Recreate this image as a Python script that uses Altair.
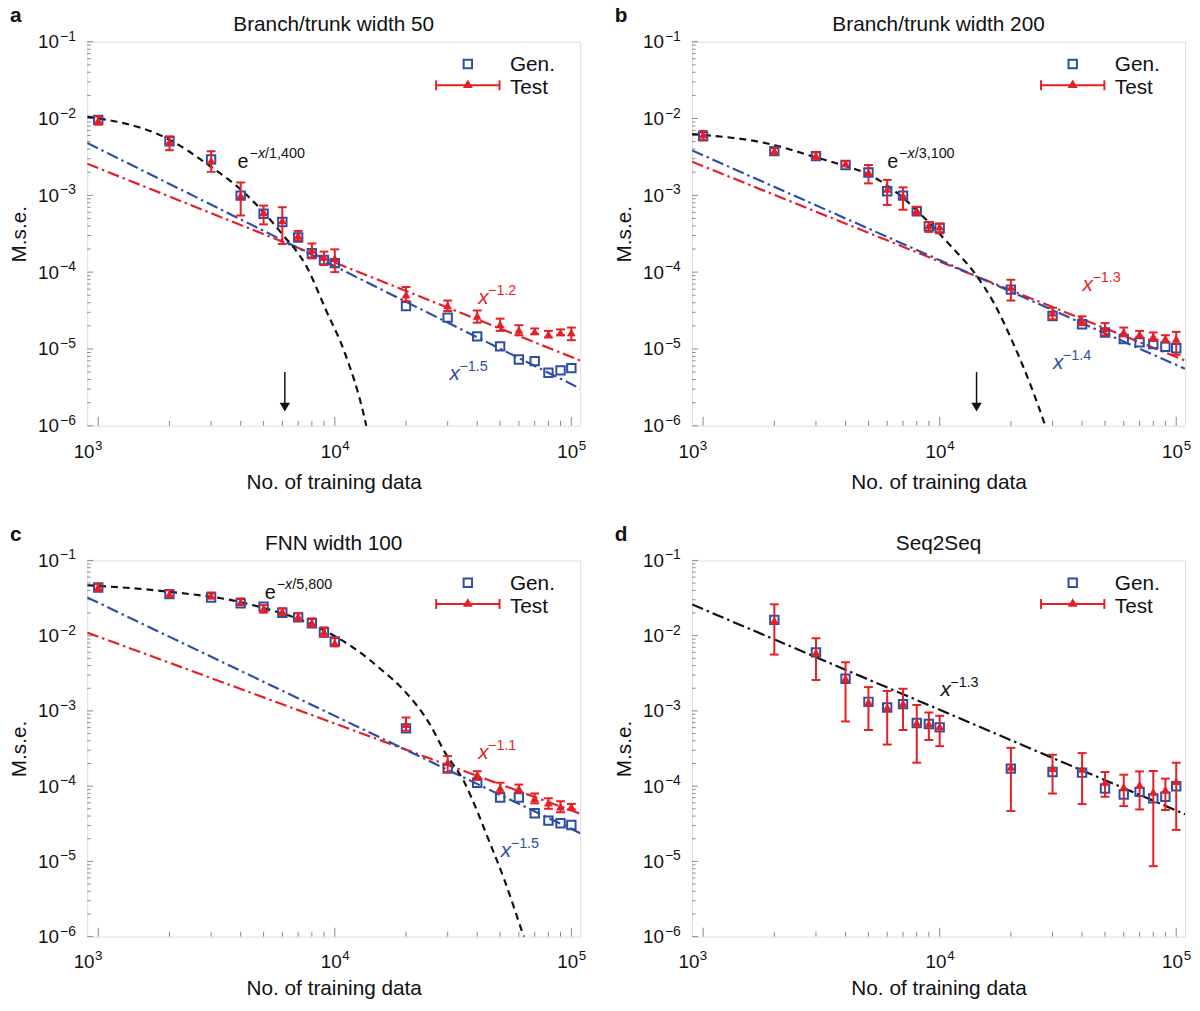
import altair as alt
import pandas as pd

FONT = "Liberation Sans"
BLUE = "#2d4ea3"
RED = "#e61f27"
INK = "#111111"
GRAY = "#8a8a8a"
FRAME = "#6a6a6a"

W = 498
H_TOP = 388
H_BOT = 380
X_DOMAIN = [898, 109000]
Y_DOMAIN = [1e-6, 1e-1]

# ---------------- tick values / tick labels ----------------
x_tick_vals = [1000, 10000, 100000]
x_tick_exp = ["3", "4", "5"]
y_tick_vals = [1e-6, 1e-5, 1e-4, 1e-3, 1e-2, 1e-1]
y_tick_exp = ["\u22126", "\u22125", "\u22124", "\u22123", "\u22122", "\u22121"]
minor_mult = [2, 3, 4, 5, 6, 7, 8, 9]
x_minor = [m * 10 ** e for e in (3, 4) for m in minor_mult]
y_minor = [m * 10.0 ** e for e in range(-6, -1) for m in minor_mult]

legend_labels = ["Gen.", "Test"]

# ---------------- data ----------------
n_train = [1000, 2000, 3000, 4000, 5000, 6000, 7000, 8000, 9000, 10000,
           20000, 30000, 40000, 50000, 60000, 70000, 80000, 90000, 100000]

# panel a: Branch/trunk width 50
a_gen = [9.6e-3, 5.06e-3, 2.94e-3, 9.9e-4, 5.75e-4, 4.49e-4, 2.82e-4, 1.76e-4, 1.44e-4, 1.31e-4,
         3.61e-5, 2.56e-5, 1.46e-5, 1.08e-5, 7.29e-6, 6.94e-6, 4.91e-6, 5.26e-6, 5.63e-6]
a_test = [9.5e-3, 5.0e-3, 2.84e-3, 1.0e-3, 6.0e-4, 4.7e-4, 3.0e-4, 1.94e-4, 1.58e-4, 1.51e-4,
          5.1e-5, 3.69e-5, 2.69e-5, 2.1e-5, 1.77e-5, 1.69e-5, 1.56e-5, 1.64e-5, 1.64e-5]
a_lo = [8.3e-3, 3.87e-3, 2.02e-3, 5.47e-4, 4.19e-4, 2.32e-4, 2.6e-4, 1.51e-4, 1.24e-4, 1.0e-4,
        4.19e-5, 3.12e-5, 2.2e-5, 1.72e-5, 1.51e-5, 1.57e-5, 1.41e-5, 1.51e-5, 1.3e-5]
a_hi = [1.06e-2, 5.86e-3, 3.76e-3, 1.47e-3, 7.36e-4, 7.0e-4, 3.44e-4, 2.36e-4, 1.85e-4, 1.98e-4,
        6.4e-5, 4.27e-5, 3.17e-5, 2.48e-5, 2.04e-5, 1.85e-5, 1.72e-5, 1.8e-5, 1.9e-5]
a_exp_x = [898, 2000, 2900, 4200, 5970, 7600, 9150, 11000, 13250, 13800]
a_exp_y = [1.06e-2, 5.3e-3, 2.53e-3, 1.04e-3, 3.18e-4, 1.18e-4, 3.27e-5, 9.06e-6, 1.4e-6, 8e-7]
a_red_x = [898, 109000]
a_red_y = [2.58e-3, 7.08e-6]
a_blue_x = [898, 109000]
a_blue_y = [4.81e-3, 3.05e-6]

# panel b: Branch/trunk width 200
b_gen = [5.86e-3, 3.76e-3, 3.24e-3, 2.48e-3, 1.98e-3, 1.13e-3, 9.9e-4, 6.2e-4, 3.95e-4, 3.76e-4,
         5.93e-5, 2.69e-5, 2.1e-5, 1.64e-5, 1.35e-5, 1.22e-5, 1.16e-5, 1.07e-5, 1.02e-5]
b_test = [6.2e-3, 3.8e-3, 3.3e-3, 2.6e-3, 2.0e-3, 1.21e-3, 1.0e-3, 6.4e-4, 4.1e-4, 3.9e-4,
          6.4e-5, 2.96e-5, 2.32e-5, 1.85e-5, 1.67e-5, 1.56e-5, 1.46e-5, 1.37e-5, 1.35e-5]
b_lo = [5.3e-3, 3.5e-3, 3.0e-3, 2.4e-3, 1.43e-3, 7.5e-4, 6.5e-4, 5.6e-4, 3.34e-4, 3.2e-4,
        4.27e-5, 2.43e-5, 2.04e-5, 1.5e-5, 1.46e-5, 1.41e-5, 1.27e-5, 1.22e-5, 8.4e-6]
b_hi = [6.9e-3, 4.1e-3, 3.6e-3, 2.8e-3, 2.48e-3, 1.59e-3, 1.27e-3, 7.1e-4, 4.49e-4, 4.3e-4,
        7.96e-5, 3.44e-5, 2.66e-5, 2.17e-5, 1.9e-5, 1.72e-5, 1.64e-5, 1.51e-5, 1.67e-5]
b_exp_x = [898, 2010, 2965, 3990, 4980, 6700, 8690, 11050, 14060, 16930, 20370, 24540, 27940, 28600]
b_exp_y = [6.28e-3, 4.49e-3, 3.15e-3, 2.41e-3, 1.88e-3, 1.04e-3, 4.96e-4, 2.25e-4, 9.7e-5,
           3.99e-5, 1.22e-5, 3.05e-6, 1.0e-6, 8e-7]
b_red_x = [898, 109000]
b_red_y = [2.74e-3, 7.08e-6]
b_blue_x = [898, 109000]
b_blue_y = [3.84e-3, 5.52e-6]

# panel c: FNN width 100
c_gen = [4.36e-2, 3.56e-2, 3.22e-2, 2.69e-2, 2.43e-2, 2.02e-2, 1.75e-2, 1.46e-2, 1.1e-2, 8.39e-3,
         5.86e-4, 1.71e-4, 1.11e-4, 7.07e-5, 7.07e-5, 4.36e-5, 3.48e-5, 3.21e-5, 3.05e-5]
c_test = [4.45e-2, 3.6e-2, 3.4e-2, 2.8e-2, 2.3e-2, 2.1e-2, 1.8e-2, 1.5e-2, 1.13e-2, 8.1e-3,
          6.68e-4, 2.09e-4, 1.42e-4, 9.5e-5, 9.3e-5, 6.87e-5, 6.03e-5, 5.33e-5, 5.33e-5]
c_lo = [3.94e-2, 3.29e-2, 3.13e-2, 2.55e-2, 2.02e-2, 1.88e-2, 1.58e-2, 1.32e-2, 9.75e-3, 7.2e-3,
        5.46e-4, 1.54e-4, 1.21e-4, 8.2e-5, 8.24e-5, 5.9e-5, 5.0e-5, 4.5e-5, 4.9e-5]
c_hi = [4.83e-2, 4.03e-2, 3.75e-2, 3.13e-2, 2.55e-2, 2.31e-2, 1.98e-2, 1.7e-2, 1.29e-2, 9.27e-3,
        8.18e-4, 2.51e-4, 1.58e-4, 1.11e-4, 1.05e-4, 8.0e-5, 6.9e-5, 6.3e-5, 5.8e-5]
c_exp_x = [898, 2000, 4200, 10050, 12500, 15380, 20000, 25120, 29040, 35220, 40090, 43290,
           52300, 62950, 64500]
c_exp_y = [4.68e-2, 3.83e-2, 2.69e-2, 9.75e-3, 6.3e-3, 3.75e-3, 1.75e-3, 6.8e-4, 2.9e-4,
           1.14e-4, 4.57e-5, 2.49e-5, 5.5e-6, 1.0e-6, 8e-7]
c_red_x = [898, 109000]
c_red_y = [1.1e-2, 4.3e-5]
c_blue_x = [898, 109000]
c_blue_y = [3.22e-2, 2.37e-5]

# panel d: Seq2Seq (no point at 1,000)
d_n = [2000, 3000, 4000, 5000, 6000, 7000, 8000, 9000, 10000,
       20000, 30000, 40000, 50000, 60000, 70000, 80000, 90000, 100000]
d_gen = [1.62e-2, 6.0e-3, 2.67e-3, 1.32e-3, 1.11e-3, 1.23e-3, 6.9e-4, 6.7e-4, 6.05e-4,
         1.71e-4, 1.54e-4, 1.51e-4, 9.3e-5, 7.75e-5, 8.4e-5, 6.87e-5, 7.23e-5, 9.97e-5]
d_test = [1.6e-2, 6.0e-3, 2.7e-3, 1.32e-3, 1.12e-3, 1.27e-3, 7.0e-4, 6.8e-4, 6.2e-4,
          1.8e-4, 1.74e-4, 1.7e-4, 1.14e-4, 9.77e-5, 1.05e-4, 8.4e-5, 9.0e-5, 1.16e-4]
d_lo = [5.6e-3, 2.57e-3, 7.24e-4, 5.57e-4, 3.57e-4, 5.57e-4, 2.05e-4, 4.11e-4, 3.4e-4,
        4.68e-5, 7.98e-5, 5.78e-5, 7.23e-5, 5.43e-5, 4.9e-5, 8.63e-6, 4.82e-5, 2.62e-5]
d_hi = [2.61e-2, 9.27e-3, 4.43e-3, 2.07e-3, 1.84e-3, 1.97e-3, 1.2e-3, 9.53e-4, 8.61e-4,
        3.23e-4, 2.61e-4, 2.75e-4, 1.54e-4, 1.42e-4, 1.57e-4, 1.59e-4, 1.26e-4, 2.05e-4]
d_fit_x = [898, 109000]
d_fit_y = [2.6e-2, 4.23e-5]

# annotation anchors (data units) and texts
a_exp_lab = (3882, 2.27e-3, "/1,400")
a_red_lab = (40360, 3.85e-5, "\u22121.2")
a_blue_lab = (30550, 3.91e-6, "\u22121.5")
b_exp_lab = (6000, 2.27e-3, "/3,100")
b_red_lab = (40180, 5.62e-5, "\u22121.3")
b_blue_lab = (30130, 5.52e-6, "\u22121.4")
c_exp_lab = (5060, 3.09e-2, "/5,800")
c_red_lab = (40360, 2.3e-4, "\u22121.1")
c_blue_lab = (50350, 1.16e-5, "\u22121.5")
d_fit_lab = (10070, 1.58e-3, "\u22121.3")

# arrows (x, top, head centre)
a_arrow = (6150, 5.0e-6, 1.75e-6)
b_arrow = (14320, 5.0e-6, 1.75e-6)


def txt(**kw):
    base = dict(font=FONT, color=INK, align="left", baseline="alphabetic")
    base.update(kw)
    return base


def make_panel(letter, title, H, n, gen, test, lo, hi, lines, labels, arrow=None, title_y=63):
    x_axis = alt.Axis(values=x_tick_vals, labelExpr="'10'", labelFont=FONT, labelFontSize=19,
                      labelColor=INK, labelBaseline="alphabetic", labelPadding=31.6,
                      labelOffset=-4.2,
                      labelAlign={"condition": {"test": "datum.value < 1500", "value": "right"},
                                  "value": "center"},
                      labelOverlap=False, labelFlush=False, labelBound=False,
                      ticks=False, tickSize=0, domain=False, grid=False,
                      title="No. of training data", titleFont=FONT, titleFontSize=21,
                      titleFontWeight="normal", titleColor=INK, titleX=W / 2, titleY=title_y,
                      titleBaseline="alphabetic", titleAlign="center")
    y_axis = alt.Axis(values=y_tick_vals, labelExpr="'10'", labelFont=FONT, labelFontSize=19,
                      labelColor=INK, labelBaseline="middle", labelAlign="right", labelPadding=29,
                      labelOverlap=False, labelFlush=False, labelBound=False,
                      ticks=False, tickSize=0, domain=False, grid=False,
                      title="M.s.e.", titleFont=FONT, titleFontSize=21, titleFontWeight="normal",
                      titleColor=INK, titleX=-62, titleY=H / 2, titleAngle=270,
                      titleBaseline="alphabetic", titleAlign="center")
    xs = alt.Scale(type="log", domain=X_DOMAIN)
    ys = alt.Scale(type="log", domain=Y_DOMAIN)

    def X(f):
        return alt.X(f"{f}:Q", scale=xs, axis=x_axis)

    def Y(f):
        return alt.Y(f"{f}:Q", scale=ys, axis=y_axis)

    layers = []
    df = pd.DataFrame({"n": n, "gen": gen, "test": test, "lo": lo, "hi": hi})
    gen_layer = (alt.Chart(df).mark_point(shape="square", filled=False, color=BLUE, size=72,
                                          strokeWidth=2, opacity=1)
                 .encode(x=X("n"), y=Y("gen")))
    # inward ticks
    layers.append(alt.Chart(pd.DataFrame({"n": y_tick_vals})).mark_rule(color=GRAY, strokeWidth=1)
                  .encode(y=Y("n"), x=alt.value(0), x2=alt.value(6)))
    layers.append(alt.Chart(pd.DataFrame({"n": y_minor})).mark_rule(color=GRAY, strokeWidth=1)
                  .encode(y=Y("n"), x=alt.value(0), x2=alt.value(3.5)))
    layers.append(alt.Chart(pd.DataFrame({"n": x_tick_vals})).mark_rule(color=GRAY, strokeWidth=1)
                  .encode(x=X("n"), y=alt.value(H), y2=alt.value(H - 9)))
    layers.append(alt.Chart(pd.DataFrame({"n": x_minor})).mark_rule(color=GRAY, strokeWidth=1)
                  .encode(x=X("n"), y=alt.value(H), y2=alt.value(H - 5)))
    # tick label exponents
    layers.append(alt.Chart(pd.DataFrame({"gen": y_tick_vals, "t": y_tick_exp}))
                  .mark_text(**txt(fontSize=14, dy=-1))
                  .encode(y=Y("gen"), x=alt.value(-27.4), text="t:N"))
    xe = pd.DataFrame({"n": x_tick_vals, "t": x_tick_exp})
    layers.append(alt.Chart(xe).transform_filter("datum.n < 1500")
                  .mark_text(**txt(fontSize=13.5, dx=-3.4))
                  .encode(x=X("n"), y=alt.value(H + 24), text="t:N"))
    layers.append(alt.Chart(xe).transform_filter("datum.n > 1500")
                  .mark_text(**txt(fontSize=13.5, dx=7.6))
                  .encode(x=X("n"), y=alt.value(H + 24), text="t:N"))
    # fitted curves
    for lx, ly, color, dash in lines:
        layers.append(alt.Chart(pd.DataFrame({"n": lx, "gen": ly}))
                      .mark_line(color=color, strokeDash=dash, strokeWidth=2.2, clip=True,
                                 interpolate="monotone")
                      .encode(x=X("n"), y=Y("gen")))
    layers.append(gen_layer)
    # Test error bars and triangles
    layers.append(alt.Chart(df).mark_rule(color=RED, strokeWidth=2)
                  .encode(x=X("n"), y=Y("lo"), y2=alt.Y2("hi")))
    layers.append(alt.Chart(df).mark_tick(color=RED, orient="horizontal", size=9, thickness=2, opacity=1)
                  .encode(x=X("n"), y=Y("lo")))
    layers.append(alt.Chart(df).mark_tick(color=RED, orient="horizontal", size=9, thickness=2, opacity=1)
                  .encode(x=X("n"), y=Y("hi")))
    layers.append(alt.Chart(df).mark_point(shape="triangle-up", filled=True, color=RED, size=80, opacity=1)
                  .encode(x=X("n"), y=Y("test")))
    # annotations
    for kind, (ax, ay, sup), color in labels:
        adf = pd.DataFrame({"n": [ax], "gen": [ay]})
        if kind == "exp":
            parts = [("e", 20, "normal", 0, 0), ("\u2212", 14.5, "normal", 12, -10),
                     ("x", 14.5, "italic", 20.5, -10), (sup, 14.5, "normal", 27.8, -10)]
        else:
            parts = [("x", 21, "italic", 0, 0), (sup, 14.5, "normal", 10, -9)]
        for t, fs, style, dx, dy in parts:
            layers.append(alt.Chart(adf.assign(t=t))
                          .mark_text(**txt(fontSize=fs, fontStyle=style, dx=dx, dy=dy, color=color))
                          .encode(x=X("n"), y=Y("gen"), text="t:N"))
    # arrow
    if arrow is not None:
        ardf = pd.DataFrame({"n": [arrow[0]], "gen": [arrow[1]], "hi": [arrow[2]]})
        layers.append(alt.Chart(ardf).mark_rule(color=INK, strokeWidth=1.5)
                      .encode(x=X("n"), y=Y("gen"), y2=alt.Y2("hi")))
        layers.append(alt.Chart(ardf).mark_point(shape="triangle-down", filled=True, color=INK,
                                                 size=110, opacity=1)
                      .encode(x=X("n"), y=Y("hi")))
    # legend
    one = pd.DataFrame({"t": [legend_labels[0]]})
    two = pd.DataFrame({"t": [legend_labels[1]]})
    layers.append(alt.Chart(one).mark_point(shape="square", filled=False, color=BLUE, size=72,
                                            strokeWidth=2, opacity=1)
                  .encode(x=alt.value(384.5), y=alt.value(22.5)))
    layers.append(alt.Chart(two).mark_rule(color=RED, strokeWidth=2)
                  .encode(x=alt.value(352.5), x2=alt.value(416.5), y=alt.value(44)))
    layers.append(alt.Chart(two).mark_rule(color=RED, strokeWidth=2)
                  .encode(x=alt.value(352.5), y=alt.value(39), y2=alt.value(49)))
    layers.append(alt.Chart(two).mark_rule(color=RED, strokeWidth=2)
                  .encode(x=alt.value(416.5), y=alt.value(39), y2=alt.value(49)))
    layers.append(alt.Chart(two).mark_point(shape="triangle-up", filled=True, color=RED, size=100,
                                            opacity=1)
                  .encode(x=alt.value(384.5), y=alt.value(42.5)))
    layers.append(alt.Chart(one).mark_text(**txt(fontSize=21))
                  .encode(x=alt.value(427), y=alt.value(29.7), text="t:N"))
    layers.append(alt.Chart(two).mark_text(**txt(fontSize=21))
                  .encode(x=alt.value(427), y=alt.value(52.7), text="t:N"))
    # panel letter and panel title
    layers.append(alt.Chart(pd.DataFrame({"t": [letter]}))
                  .mark_text(**txt(fontSize=21, fontWeight="bold"))
                  .encode(x=alt.value(-78), y=alt.value(-20), text="t:N"))
    layers.append(alt.Chart(pd.DataFrame({"t": [title]}))
                  .mark_text(**txt(fontSize=21, align="center"))
                  .encode(x=alt.value(W / 2), y=alt.value(-11), text="t:N"))
    return alt.layer(*layers).properties(width=W, height=H)


DASH = [7, 5]
DASHDOT = [12, 4, 2.5, 4]

pa = make_panel("a", "Branch/trunk width 50", H_TOP, n_train, a_gen, a_test, a_lo, a_hi,
                [(a_red_x, a_red_y, RED, DASHDOT), (a_blue_x, a_blue_y, BLUE, DASHDOT),
                 (a_exp_x, a_exp_y, INK, DASH)],
                [("exp", a_exp_lab, INK), ("pow", a_red_lab, RED), ("pow", a_blue_lab, BLUE)],
                a_arrow)
pb = make_panel("b", "Branch/trunk width 200", H_TOP, n_train, b_gen, b_test, b_lo, b_hi,
                [(b_red_x, b_red_y, RED, DASHDOT), (b_blue_x, b_blue_y, BLUE, DASHDOT),
                 (b_exp_x, b_exp_y, INK, DASH)],
                [("exp", b_exp_lab, INK), ("pow", b_red_lab, RED), ("pow", b_blue_lab, BLUE)],
                b_arrow)
pc = make_panel("c", "FNN width 100", H_BOT, n_train, c_gen, c_test, c_lo, c_hi,
                [(c_red_x, c_red_y, RED, DASHDOT), (c_blue_x, c_blue_y, BLUE, DASHDOT),
                 (c_exp_x, c_exp_y, INK, DASH)],
                [("exp", c_exp_lab, INK), ("pow", c_red_lab, RED), ("pow", c_blue_lab, BLUE)],
                title_y=58)
pd_ = make_panel("d", "Seq2Seq", H_BOT, d_n, d_gen, d_test, d_lo, d_hi,
                 [(d_fit_x, d_fit_y, INK, DASHDOT)],
                 [("pow", d_fit_lab, INK)], title_y=58)

chart = alt.vconcat(
    alt.hconcat(pa, pb, spacing=26),
    alt.hconcat(pc, pd_, spacing=26),
    spacing=30,
).properties(
    padding={"left": 0, "top": -9, "right": 0, "bottom": -4}
).configure_view(stroke=FRAME, strokeWidth=1.3).configure(font=FONT)

chart.save("out.html", embed_options={"renderer": "svg", "actions": False})
